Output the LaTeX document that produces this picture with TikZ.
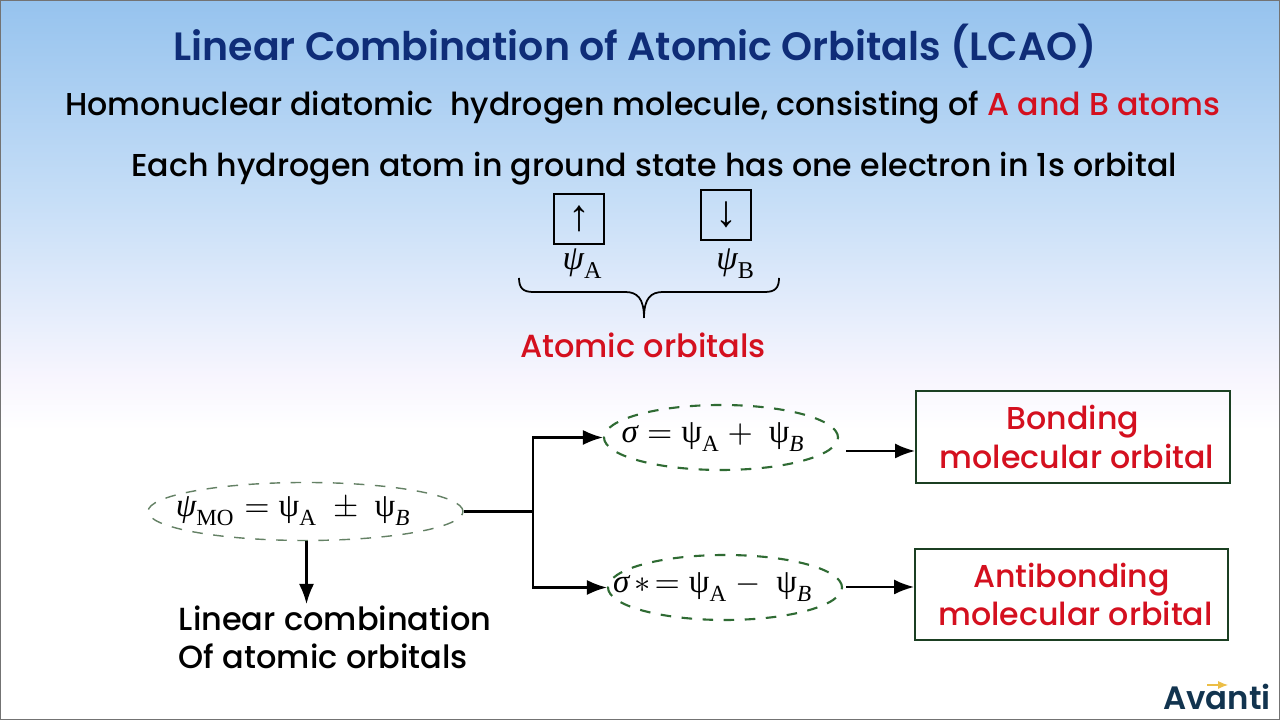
\documentclass[tikz,border=0pt]{standalone}
\usepackage{amsmath}
\usepackage{fontspec}
\setmainfont{Poppins Medium}
\newfontfamily\eqfont{Liberation Serif}
\newfontfamily\logofont{Poppins SemiBold}
\usetikzlibrary{arrows.meta,positioning,shapes.geometric}
\definecolor{titleblue}{HTML}{0F2D78}
\definecolor{accentred}{HTML}{D4101F}
\definecolor{boxgreen}{HTML}{1B3F22}
\definecolor{dashgreen}{HTML}{2F6B33}
\definecolor{logonavy}{HTML}{12344F}
\definecolor{skytop}{RGB}{150,195,238}
\definecolor{skymid}{RGB}{198,222,247}
\definecolor{skylow}{RGB}{248,246,254}
\newcommand{\upsi}{\text{\eqfont ψ}}
\newcommand{\ipsi}{\text{\eqfont\itshape ψ}}
\newcommand{\isigma}{\text{\eqfont\itshape σ}}
\newcommand{\upsub}[1]{\text{\eqfont #1}}
\newcommand{\itsub}[1]{\text{\eqfont\itshape #1}}
\tikzset{
  bodytext/.style={font=\fontsize{9.0pt}{10.85pt}\selectfont,inner sep=0pt},
  orbitbox/.style={draw,line width=.45pt,minimum size=.5cm,inner sep=0pt,font=\fontsize{12.5pt}{14pt}\eqfont},
  psilabel/.style={inner sep=0pt,font=\fontsize{9.8pt}{12pt}\selectfont},
  eqellipse/.style={ellipse,draw=dashgreen,dashed,line width=.6pt,inner sep=0pt,inner xsep=-.6cm,
    font=\fontsize{9.4pt}{12pt}\selectfont},
  resultbox/.style={draw=boxgreen,line width=.55pt,align=center,text=accentred,inner sep=0pt,
    font=\fontsize{9.0pt}{10.85pt}\selectfont},
  linkline/.style={line width=.6pt},
}
\begin{document}
\begin{tikzpicture}[>=Latex]
\useasboundingbox (0,0) rectangle (12.8,7.2);
\fill[white] (0,0) rectangle (12.8,7.2);
\shade[top color=skytop,bottom color=skymid] (0,5.2) rectangle (12.8,7.2);
\shade[top color=skymid,bottom color=skylow] (0,3.4) rectangle (12.8,5.2);
\shade[top color=skylow,bottom color=white] (0,2.9) rectangle (12.8,3.4);
\draw[black!55,line width=.5pt] (0,0) rectangle (12.8,7.2);
\node[font=\fontsize{11.23pt}{13pt}\selectfont,inner sep=0pt,text=titleblue] (title) at (6.35,6.74) {\fontspec{Poppins SemiBold}Linear Combination of Atomic Orbitals (LCAO)};
\node[bodytext] (intro) at (6.43,6.12) {Homonuclear diatomic\ \ hydrogen molecule, consisting of \textcolor{accentred}{A and B atoms}};
\node[bodytext] (ground) at (6.54,5.51) {Each hydrogen atom in ground state has one electron in 1s orbital};
% orbital boxes
\node[orbitbox] (boxA) at (5.79,5.01) {↑};
\node[orbitbox] (boxB) at (7.26,5.05) {↓};
\node[psilabel] (psiA) at (5.83,4.56) {$\ipsi_{\upsub{A}}$};
\node[psilabel] (psiB) at (7.36,4.56) {$\ipsi_{\upsub{B}}$};
\draw[line width=.5pt] (5.19,4.42) .. controls (5.19,4.32) and (5.23,4.28) .. (5.33,4.28) -- (6.25,4.28) .. controls (6.37,4.28) and (6.44,4.22) .. (6.44,4.02);
\draw[line width=.5pt] (7.79,4.42) .. controls (7.79,4.32) and (7.75,4.28) .. (7.65,4.28) -- (6.63,4.28) .. controls (6.51,4.28) and (6.44,4.22) .. (6.44,4.02);
\node[bodytext,font=\fontsize{9.1pt}{10.85pt}\selectfont,text=accentred] (atomic) at (6.43,3.75) {Atomic orbitals};
% lower part
\node[eqellipse,draw=dashgreen!70!black!70,line width=.4pt,minimum width=3.15cm,minimum height=.58cm] (mo) at (3.055,2.085) {$\ipsi_{\upsub{MO}}=\upsi_{\upsub{A}}\ \pm\ \upsi_{\itsub{B}}$\rule{.24cm}{0pt}};
\node[eqellipse,minimum width=2.34cm,minimum height=.65cm] (bond) at (7.21,2.825) {$\isigma=\upsi_{\upsub{A}}+\ \upsi_{\itsub{B}}$\rule{.15cm}{0pt}};
\node[eqellipse,minimum width=2.34cm,minimum height=.65cm] (anti) at (7.25,1.325) {$\isigma\,\ast\!=\upsi_{\upsub{A}}-\ \upsi_{\itsub{B}}$\rule{.24cm}{0pt}};
\node[resultbox,minimum width=3.14cm,minimum height=.92cm] (bondbox) at (10.73,2.83) {Bonding\\\hspace*{.08cm}molecular orbital};
\node[resultbox,minimum width=3.13cm,minimum height=.91cm] (antibox) at (10.715,1.255) {Antibonding\\\hspace*{.08cm}molecular orbital};
\node[bodytext,font=\fontsize{9.1pt}{10.85pt}\selectfont,align=left] (lincomb) at (3.35,0.83) {Linear combination\\Of atomic orbitals};
\coordinate (split) at (5.33,2.085);
\coordinate (bondout) at (8.46,2.69);
\coordinate (antiout) at (8.46,1.33);
\coordinate (linctop) at (3.065,1.16);
\draw[linkline] (mo.east) -- (split);
\draw[->,linkline] (split) |- (bond.west);
\draw[->,linkline] (split) |- (anti.west);
\draw[->,linkline] (bondout) -- (bondout -| bondbox.west);
\draw[->,linkline] (antiout) -- (antiout -| antibox.west);
\draw[->,linkline] (mo.south -| linctop) -- (linctop);
% logo
\node[font=\fontsize{9.2pt}{10pt}\logofont,text=logonavy,inner sep=0pt] (logo) at (12.17,0.23) {Avanti};
\draw[-{Latex[length=1mm,width=.8mm]},draw={rgb,255:red,236;green,190;blue,70},line width=.3pt] (12.07,0.35) -- (12.28,0.35);
\end{tikzpicture}
\end{document}
